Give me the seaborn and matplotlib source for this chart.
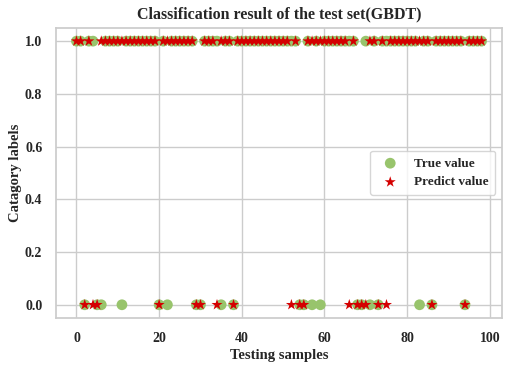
import numpy as np
import pandas as pd
import seaborn as sns
import matplotlib.pyplot as plt

# Rótulos reais e previstos do conjunto de teste
y_true = [1, 1, 0, 1, 1, 0, 0, 1, 1, 1,
          1, 0, 1, 1, 1, 1, 1, 1, 1, 1,
          0, 1, 0, 1, 1, 1, 1, 1, 1, 0,
          0, 1, 1, 1, 1, 0, 1, 1, 0, 1,
          1, 1, 1, 1, 1, 1, 1, 1, 1, 1,
          1, 1, 1, 1, 0, 0, 1, 0, 1, 0,
          1, 1, 1, 1, 1, 1, 1, 1, 0, 0,
          1, 0, 1, 0, 1, 1, 1, 1, 1, 1,
          1, 1, 1, 0, 1, 1, 0, 1, 1, 1,
          1, 1, 1, 1, 0, 1, 1, 1, 1]
y_pred = [1, 1, 0, 1, 0, 0, 1, 1, 1, 1,
          1, 1, 1, 1, 1, 1, 1, 1, 1, 1,
          0, 1, 1, 1, 1, 1, 1, 1, 1, 0,
          0, 1, 1, 1, 0, 1, 1, 1, 0, 1,
          1, 1, 1, 1, 1, 1, 1, 1, 1, 1,
          1, 1, 0, 1, 0, 0, 1, 1, 1, 1,
          1, 1, 1, 1, 1, 1, 0, 1, 0, 0,
          0, 1, 1, 0, 1, 0, 1, 1, 1, 1,
          1, 1, 1, 1, 1, 1, 0, 1, 1, 1,
          1, 1, 1, 1, 0, 1, 1, 1, 1]
samples = list(range(len(y_true)))

df = pd.DataFrame({'sample': samples, 'true': y_true, 'pred': y_pred})

sns.set_theme(style="whitegrid")
plt.rcParams['font.family'] = ['Liberation Serif', 'DejaVu Serif']
plt.rcParams['font.weight'] = 'bold'

fig = plt.figure(figsize=(5.11, 3.68), dpi=100)
ax = fig.add_axes([0.110, 0.136, 0.872, 0.788])

sns.scatterplot(data=df, x='sample', y='true', color='#98c46c', marker='o',
                s=60, edgecolor='none', label='True value', ax=ax)
sns.scatterplot(data=df, x='sample', y='pred', color='#d40000', marker='*',
                s=70, edgecolor='none', label='Predict value', ax=ax)

ax.set_title('Classification result of the test set(GBDT)', fontsize=11.5, fontweight='bold', pad=7)
ax.set_xlabel('Testing samples', fontsize=10.5, fontweight='bold', labelpad=3)
ax.set_ylabel('Catagory labels', fontsize=10.5, fontweight='bold', labelpad=2)
ax.set_xticks([0, 20, 40, 60, 80, 100])
ax.set_yticks([0.0, 0.2, 0.4, 0.6, 0.8, 1.0])
ax.set_yticklabels(['0.0', '0.2', '0.4', '0.6', '0.8', '1.0'])
ax.tick_params(labelsize=10, pad=4)
for lab in ax.get_xticklabels() + ax.get_yticklabels():
    lab.set_fontweight('bold')

ax.legend(loc='center right', fontsize=9.5, frameon=True, markerscale=1.0,
          bbox_to_anchor=(1.0, 0.5), borderpad=0.5, handletextpad=0.8)

plt.savefig('out.png', dpi=100)
